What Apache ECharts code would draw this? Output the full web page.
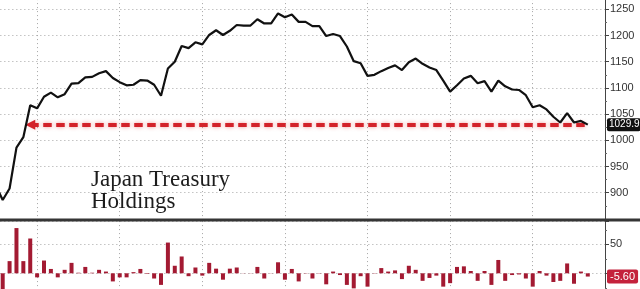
<!DOCTYPE html>
<html>
<head>
<meta charset="utf-8">
<script src="https://cdn.jsdelivr.net/npm/echarts@6/dist/echarts.min.js"></script>
<style>
html,body{margin:0;padding:0;background:#fff;}
#c{width:640px;height:289px;}
</style>
</head>
<body>
<div id="c"></div>
<script>
// Months (first one sits just off the left edge)
const months = [
  '2011-06','2011-07','2011-08','2011-09','2011-10','2011-11','2011-12',
  '2012-01','2012-02','2012-03','2012-04','2012-05','2012-06','2012-07','2012-08','2012-09','2012-10','2012-11','2012-12',
  '2013-01','2013-02','2013-03','2013-04','2013-05','2013-06','2013-07','2013-08','2013-09','2013-10','2013-11','2013-12',
  '2014-01','2014-02','2014-03','2014-04','2014-05','2014-06','2014-07','2014-08','2014-09','2014-10','2014-11','2014-12',
  '2015-01','2015-02','2015-03','2015-04','2015-05','2015-06','2015-07','2015-08','2015-09','2015-10','2015-11','2015-12',
  '2016-01','2016-02','2016-03','2016-04','2016-05','2016-06','2016-07','2016-08','2016-09','2016-10','2016-11','2016-12',
  '2017-01','2017-02','2017-03','2017-04','2017-05','2017-06','2017-07','2017-08','2017-09','2017-10','2017-11','2017-12',
  '2018-01','2018-02','2018-03','2018-04','2018-05','2018-06','2018-07','2018-08'
];

// Japan Treasury holdings ($bn)
const holdings = [
  914, 886, 908, 986, 1006, 1067, 1061, 1083, 1091, 1082,
  1088, 1108, 1109, 1120, 1121, 1128, 1132, 1119, 1111, 1105,
  1106, 1115, 1114, 1106, 1085, 1137, 1150, 1180, 1176, 1187,
  1183, 1201, 1210, 1201, 1209, 1220, 1219, 1219, 1231, 1223,
  1223, 1242, 1235, 1240, 1226, 1226, 1218, 1218, 1199, 1203,
  1199, 1179, 1151, 1147, 1123, 1125, 1132, 1138, 1143, 1134,
  1149, 1156, 1146, 1139, 1134, 1114, 1093, 1105, 1118, 1123,
  1109, 1113, 1093, 1114, 1103, 1097, 1096, 1086, 1063, 1067,
  1059, 1045, 1034, 1052, 1034, 1037, 1029.9
];

// Monthly change ($bn)
const changes = [
  null, -28, 21, 78, 21, 60, -7, 22, 7.5, -7,
  6, 18, 1, 11, 1, 6, 3, -14, -7, -7,
  2, 7.5, -1, -9, -20, 53, 13, 29, -5, 10,
  -4, 18, 8, -11, 8, 10, 0.3, 0.3, 11, -9,
  0.3, 19, -11, 7.5, -14, 0.5, -9, 0.5, -19, 3,
  -3, -20, -26, -5, -23, 0.5, 9, 3, 5, -10,
  13, 6, -13, -8, -4, -23, -17, 11, 12, 4,
  -13, 4, -20, 23, -13, -3, -2, -9, -23, 4,
  -4, -15, -13, 17, -18, 3, -5.6
];

// Red dashed reference arrow: from month index to month index at the latest level
const arrowFromIndex = 5;
const arrowToIndex = 86;
const latestHolding = holdings[holdings.length - 1];
const latestChange = changes[changes.length - 1];

const titleText = 'Japan Treasury\nHoldings';

const cats = months.concat(['', '']);

const vSplit = {
  show: true,
  interval: function (i) { return i % 12 === 6; },
  alignWithLabel: true,
  lineStyle: { color: '#a5a5a5', type: [1, 3], width: 1 }
};
const hSplit = { show: true, lineStyle: { color: '#a5a5a5', type: [1, 3], width: 1 } };

const chart = echarts.init(document.getElementById('c'), null, { renderer: 'canvas' });

chart.setOption({
  animation: false,
  backgroundColor: '#ffffff',
  title: {
    text: titleText,
    left: 86,
    top: 164,
    textStyle: {
      fontFamily: 'Liberation Serif',
      fontSize: 23,
      lineHeight: 22,
      fontWeight: 'normal',
      color: '#1c1c1c'
    }
  },
  grid: [
    { left: -7.63, right: 35, top: -16.9, height: 235.8, outerBoundsMode: 'none', containLabel: false },
    { left: -7.63, right: 35, top: 221.1, height: 81.2, outerBoundsMode: 'none', containLabel: false }
  ],
  xAxis: [
    {
      type: 'category', gridIndex: 0, data: cats, boundaryGap: true,
      axisLine: { show: false }, axisTick: { show: false }, axisLabel: { show: false },
      splitLine: vSplit
    },
    {
      type: 'category', gridIndex: 1, data: cats, boundaryGap: true,
      axisLine: { show: false }, axisTick: { show: false }, axisLabel: { show: false },
      splitLine: vSplit
    }
  ],
  yAxis: [
    {
      type: 'value', gridIndex: 0, position: 'right',
      min: 850, max: 1300, interval: 50,
      axisLine: { show: true, lineStyle: { color: '#444', width: 1 } },
      axisTick: { show: true, length: 4, lineStyle: { color: '#444' } },
      minorTick: { show: true, splitNumber: 2, length: 2, lineStyle: { color: '#666' } },
      axisLabel: {
        color: '#333', fontSize: 11, margin: 5, fontFamily: 'Liberation Sans',
        formatter: function (v) { return (v === 850 || v === 1300) ? '' : String(v); }
      },
      splitLine: hSplit
    },
    {
      type: 'value', gridIndex: 1, position: 'right',
      min: -50, max: 90, interval: 50,
      axisLine: { show: true, lineStyle: { color: '#444', width: 1 } },
      axisTick: { show: true, length: 4, lineStyle: { color: '#444' } },
      minorTick: { show: true, splitNumber: 2, length: 2, lineStyle: { color: '#666' } },
      axisLabel: {
        color: '#333', fontSize: 11, margin: 5, fontFamily: 'Liberation Sans',
        formatter: function (v) { return v === 50 ? '50' : ''; }
      },
      splitLine: hSplit
    }
  ],
  graphic: [
    { type: 'rect', left: 0, top: 218.5, shape: { width: 640, height: 3 }, style: { fill: '#353535' }, z: 100 }
  ],
  series: [
    {
      type: 'line', xAxisIndex: 0, yAxisIndex: 0,
      data: holdings,
      symbol: 'none',
      lineStyle: { color: '#111', width: 2.2 },
      z: 5,
      markLine: {
        silent: true,
        animation: false,
        symbol: 'none',
        lineStyle: { color: '#d3222a', width: 4, type: [8.5, 4.5], shadowBlur: 4, shadowColor: 'rgba(230,70,70,0.55)' },
        label: { show: false },
        data: [
          [
            { coord: [arrowFromIndex, latestHolding], symbol: 'triangle', symbolSize: [10, 10] },
            { coord: [arrowToIndex, latestHolding], symbol: 'none' }
          ],
          {
            yAxis: latestHolding,
            lineStyle: { color: 'rgba(0,0,0,0)', shadowBlur: 0, width: 1 },
            label: {
              show: true, position: 'end', distance: 2,
              formatter: latestHolding.toFixed(1),
              color: '#fff', backgroundColor: '#111',
              padding: [2, 1, 1, 2], borderRadius: 2,
              fontSize: 10, fontFamily: 'Liberation Sans'
            }
          }
        ]
      }
    },
    {
      type: 'bar', xAxisIndex: 1, yAxisIndex: 1,
      data: changes,
      barWidth: 4,
      itemStyle: { color: '#a31a32' },
      markLine: {
        silent: true,
        animation: false,
        symbol: 'none',
        data: [
          {
            yAxis: latestChange,
            lineStyle: { color: 'rgba(0,0,0,0)', width: 1 },
            label: {
              show: true, position: 'end', distance: 2,
              formatter: latestChange.toFixed(2),
              color: '#fff', backgroundColor: '#c4223c',
              padding: [2, 3, 1, 3], borderRadius: 2,
              fontSize: 11, fontFamily: 'Liberation Sans'
            }
          }
        ]
      }
    }
  ]
});
</script>
</body>
</html>
